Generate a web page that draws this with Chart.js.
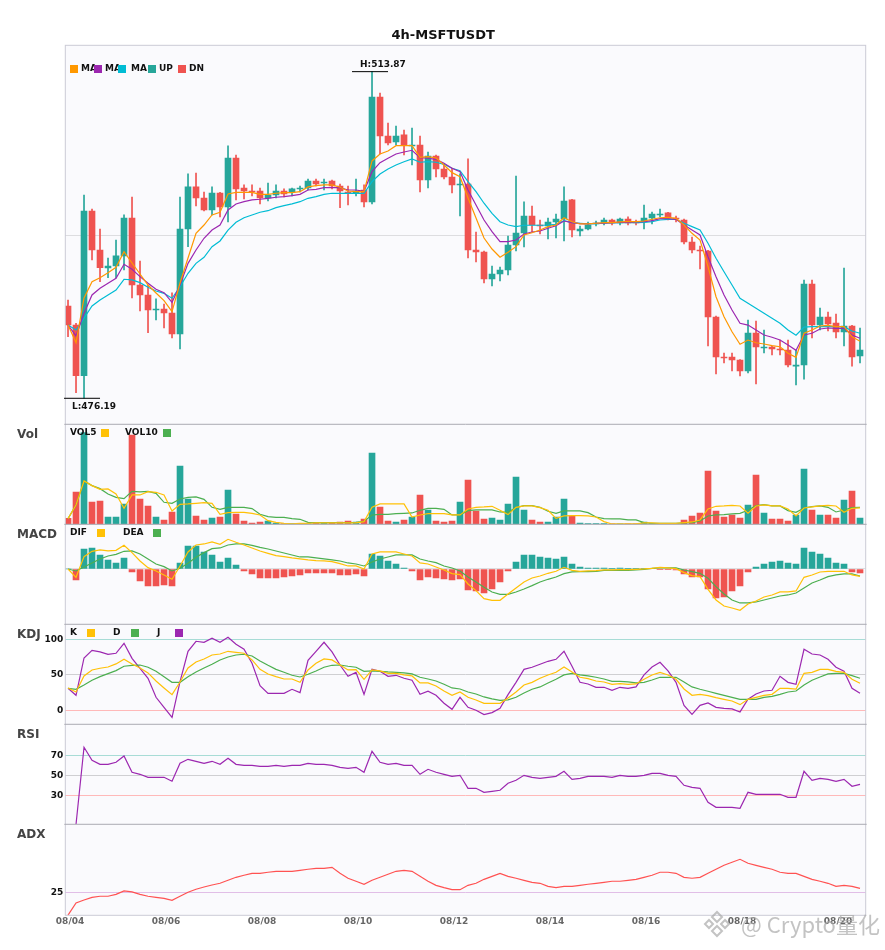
<!DOCTYPE html>
<html>
<head>
<meta charset="utf-8">
<title>4h-MSFTUSDT</title>
<script src="https://cdn.jsdelivr.net/npm/chart.js@4"></script>
<style>
    html, body { margin: 0; padding: 0; background: #fff; }
    canvas { display: block; }
</style>
</head>
<body>
<canvas id="klineChart" width="885" height="950"></canvas>
<script>
const tickDates = ["08/04", "08/06", "08/08", "08/10", "08/12", "08/14", "08/16", "08/18", "08/20"];
const tickIndexes = [0, 12, 24, 36, 48, 60, 72, 84, 96];

const opens = [
    486.84,484.64,478.80,497.80,493.30,491.22,491.45,492.61,496.99,489.26,
    488.11,486.38,486.49,486.03,483.61,495.72,500.57,499.30,497.91,499.87,
    498.26,503.91,500.45,500.10,500.10,499.30,499.64,500.10,499.99,500.34,
    500.45,501.26,501.03,501.26,500.68,499.99,499.87,500.22,498.84,510.95,
    506.45,505.76,506.57,505.30,505.41,501.37,504.14,502.64,501.72,500.80,
    500.91,493.30,493.07,489.95,490.53,490.99,493.87,495.26,497.22,496.18,
    496.07,496.53,496.87,499.07,495.49,495.72,496.30,496.41,496.76,496.41,
    496.87,496.53,496.53,496.99,497.34,497.57,496.99,496.76,494.22,493.30,
    493.18,485.57,480.95,480.95,480.61,479.34,483.72,481.99,482.11,481.88,
    481.76,479.91,480.03,489.37,484.64,485.57,484.87,483.84,484.53,481.07
];
const closes = [
    484.64,478.80,497.80,493.30,491.26,491.45,492.61,496.99,489.26,488.11,
    486.38,486.49,486.03,483.61,495.72,500.57,499.30,497.91,499.87,498.26,
    503.91,500.34,500.10,499.99,499.30,499.64,500.10,499.76,500.34,500.45,
    501.26,500.91,501.14,500.68,500.10,499.87,500.10,498.84,510.95,506.45,
    505.64,506.45,505.41,505.41,501.37,504.14,502.64,501.72,500.80,500.91,
    493.30,493.07,489.95,490.53,490.99,493.87,495.26,497.22,496.18,496.07,
    496.53,496.87,498.95,495.60,495.72,496.18,496.41,496.76,496.41,496.87,
    496.41,496.41,496.99,497.45,497.45,496.99,496.87,494.22,493.30,493.18,
    485.57,480.95,480.84,480.61,479.34,483.72,482.11,482.11,481.88,481.76,
    480.03,480.03,489.37,484.64,485.57,484.76,483.84,484.53,480.95,481.76
];
const highs = [
    487.53,484.84,499.64,498.03,495.72,492.37,494.45,497.34,499.41,492.03,
    489.26,487.65,487.07,488.37,499.41,502.07,502.18,499.99,500.57,499.95,
    505.30,504.26,500.80,500.80,500.45,501.03,500.80,500.34,500.45,500.68,
    501.49,501.49,501.49,501.37,500.91,500.68,501.49,500.80,513.87,511.41,
    507.95,507.60,507.14,507.37,506.45,504.60,504.26,503.22,502.76,502.07,
    503.80,495.37,493.18,491.45,491.34,494.91,501.83,498.84,498.37,496.76,
    496.99,497.45,500.57,499.15,496.07,496.53,496.64,496.99,496.87,496.99,
    497.11,496.76,498.49,497.68,498.03,497.65,497.22,496.85,494.80,493.76,
    493.25,485.68,481.41,481.41,480.65,485.22,485.11,484.07,482.22,482.91,
    482.91,481.76,489.84,489.84,486.61,486.14,485.91,491.22,484.60,484.30
];
const lows = [
    483.30,476.83,476.19,492.14,489.64,490.10,490.07,490.99,487.76,486.26,
    483.76,485.22,484.30,483.15,481.88,493.68,498.37,497.80,497.34,497.11,
    496.53,499.07,499.18,499.53,498.61,498.95,499.30,499.41,499.53,499.99,
    500.22,500.68,500.22,500.34,498.18,498.49,499.53,498.26,498.61,504.37,
    505.41,505.41,504.26,503.10,499.99,500.45,501.72,501.49,499.87,497.22,
    492.37,491.91,489.49,489.14,489.72,490.41,493.18,493.64,495.37,495.14,
    494.57,494.68,494.34,494.80,494.91,495.60,496.07,496.18,496.18,496.18,
    496.18,496.18,495.72,496.30,497.11,496.76,496.53,493.99,492.95,491.11,
    482.22,478.99,480.26,479.34,478.76,479.11,477.84,481.41,481.18,481.18,
    479.80,477.72,478.41,483.15,484.07,483.95,483.15,482.22,479.91,480.26
];

const ma5 = [
    484.64,482.60,487.76,489.64,490.10,490.68,491.30,493.10,491.80,490.53,
    489.26,488.34,487.45,486.18,489.49,492.37,495.22,496.18,497.34,497.65,
    499.76,499.95,499.95,499.95,499.72,499.72,499.84,499.91,499.91,500.02,
    500.57,500.72,500.80,500.80,500.53,500.10,500.02,500.02,503.57,504.37,
    504.72,505.33,505.33,505.33,503.99,504.06,503.91,503.10,502.22,501.75,
    499.30,496.99,494.68,493.41,492.46,493.03,493.68,495.03,495.29,495.60,
    495.99,496.18,497.02,496.56,496.30,496.30,496.38,496.45,496.45,496.53,
    496.56,496.56,496.64,496.84,497.02,497.07,496.95,496.18,495.22,494.45,
    491.37,487.91,485.60,483.87,482.42,482.91,482.60,482.45,482.26,482.14,
    481.38,480.92,483.69,484.07,484.53,484.61,484.45,484.45,483.30,482.76
];
const ma10 = [
    484.64,483.38,485.99,488.11,488.88,489.46,490.03,491.65,491.07,490.22,
    489.46,488.76,488.37,487.26,489.26,491.76,493.30,494.65,495.60,496.18,
    497.91,498.61,498.87,499.07,499.15,499.26,499.38,499.45,499.56,499.72,
    500.22,500.30,500.49,500.49,500.49,500.22,500.22,500.07,502.33,503.37,
    503.88,504.37,504.60,504.80,503.95,503.88,503.76,503.30,502.72,502.33,
    500.22,498.49,496.76,495.41,494.26,494.26,494.45,495.14,495.37,495.49,
    495.80,496.10,496.64,496.45,496.33,496.30,496.38,496.38,496.45,496.49,
    496.49,496.53,496.56,496.68,496.91,496.91,496.84,496.18,495.60,495.03,
    492.52,490.22,488.11,486.38,484.84,484.64,484.07,483.49,483.23,482.91,
    482.34,481.73,483.49,483.69,484.18,484.30,484.26,484.26,483.49,483.11
];
const ma20 = [
    484.64,484.07,485.42,486.84,487.53,488.11,488.68,489.92,489.84,489.53,
    488.99,488.57,488.30,487.73,489.06,490.61,491.76,492.46,493.68,494.34,
    495.60,496.49,497.02,497.34,497.65,497.83,498.18,498.41,498.61,498.87,
    499.26,499.45,499.72,499.84,499.84,499.84,499.84,499.84,501.18,502.07,
    502.64,503.10,503.48,503.80,503.42,503.48,503.42,503.18,502.72,502.45,
    501.18,500.02,498.69,497.53,496.56,496.18,495.99,496.15,496.15,496.15,
    496.18,496.26,496.68,496.45,496.38,496.30,496.33,496.38,496.41,496.45,
    496.45,496.45,496.49,496.56,496.76,496.84,496.84,496.38,495.99,495.60,
    494.07,492.34,490.79,489.26,487.73,487.15,486.57,485.99,485.42,484.84,
    484.07,483.46,484.41,484.45,484.45,484.45,484.45,484.45,483.95,483.69
];

const volumes = [
    18,97,275,67,70,22,22,61,268,76,
    55,22,13,37,175,76,25,13,19,22,
    103,31,10,4,7,10,4,2,2,2,
    2,3,3,3,7,10,7,16,214,52,
    10,7,13,22,88,43,10,7,10,67,
    133,40,16,19,13,61,142,43,13,7,
    7,22,76,25,4,2,2,2,1,1,
    1,1,7,3,2,2,2,13,25,34,
    160,40,22,28,19,58,148,34,16,16,
    10,28,166,43,28,28,19,73,100,19
];
const vol5 = [
    17,58,130,116,105,106,91,48,88,88,
    98,96,88,40,60,61,63,65,63,30,
    35,36,36,33,28,11,6,3,1,3,
    3,4,4,4,4,4,4,8,51,61,
    61,61,61,22,28,32,32,32,28,28,
    46,51,52,54,42,29,51,55,55,50,
    42,18,25,26,26,25,22,8,1,1,
    1,1,4,4,3,3,3,5,7,13,
    46,54,55,57,55,33,55,58,55,55,
    46,25,49,52,55,57,55,36,48,49
];
const vol10 = [
    17,58,130,116,107,91,81,77,99,97,
    99,93,66,63,76,81,82,75,51,45,
    51,51,51,47,30,23,21,21,17,15,
    6,5,5,5,5,5,6,9,28,30,
    30,32,33,34,42,48,48,45,28,28,
    41,43,43,43,37,36,50,56,56,51,
    39,33,40,40,40,35,22,17,16,16,
    13,13,5,3,3,3,3,4,5,10,
    25,28,29,31,33,42,56,59,55,55,
    41,36,49,53,55,51,37,43,50,51
];

const macdHist = [
    0,-0.33,0.60,0.63,0.42,0.27,0.18,0.33,-0.09,-0.36,
    -0.51,-0.51,-0.48,-0.51,0.18,0.69,0.69,0.51,0.42,0.21,
    0.33,0.12,-0.06,-0.15,-0.27,-0.27,-0.27,-0.24,-0.21,-0.18,
    -0.12,-0.12,-0.12,-0.12,-0.18,-0.18,-0.15,-0.21,0.45,0.39,
    0.24,0.15,0.03,-0.06,-0.33,-0.24,-0.27,-0.30,-0.33,-0.30,
    -0.63,-0.66,-0.72,-0.60,-0.39,-0.06,0.21,0.42,0.42,0.36,
    0.33,0.30,0.36,0.15,0.06,0.03,0.03,0.03,0.01,0.03,
    0.01,0.01,0.01,0.01,-0.01,-0.01,-0.03,-0.15,-0.24,-0.24,
    -0.60,-0.87,-0.84,-0.66,-0.51,-0.09,0.06,0.15,0.21,0.24,
    0.18,0.15,0.63,0.51,0.45,0.33,0.18,0.15,-0.09,-0.12
];
const dif = [
    0,-0.25,0.37,0.53,0.57,0.54,0.56,0.71,0.49,0.24,
    0.04,-0.06,-0.18,-0.31,0.09,0.51,0.72,0.75,0.81,0.74,
    0.89,0.80,0.72,0.63,0.54,0.47,0.40,0.37,0.33,0.30,
    0.27,0.25,0.24,0.22,0.16,0.09,0.09,0,0.45,0.51,
    0.51,0.51,0.45,0.39,0.18,0.15,0.06,-0.03,-0.14,-0.17,
    -0.45,-0.65,-0.89,-0.94,-0.94,-0.75,-0.57,-0.39,-0.27,-0.21,
    -0.13,-0.07,0.05,-0.04,-0.07,-0.06,-0.05,-0.03,-0.03,-0.02,
    -0.02,-0.01,0,0.02,0.05,0.03,0.01,-0.11,-0.20,-0.23,
    -0.61,-0.93,-1.11,-1.17,-1.24,-1.05,-0.96,-0.84,-0.78,-0.69,
    -0.69,-0.66,-0.25,-0.18,-0.09,-0.07,-0.07,-0.07,-0.18,-0.22
];
const dea = [
    0,-0.06,0.06,0.18,0.30,0.39,0.44,0.53,0.54,0.45,
    0.30,0.15,0.07,-0.06,0.02,0.17,0.35,0.49,0.61,0.63,
    0.72,0.75,0.75,0.71,0.65,0.60,0.54,0.48,0.42,0.36,
    0.36,0.33,0.30,0.27,0.24,0.18,0.15,0.09,0.21,0.30,
    0.36,0.42,0.42,0.42,0.30,0.24,0.19,0.09,0.03,-0.06,
    -0.24,-0.39,-0.55,-0.69,-0.76,-0.76,-0.69,-0.60,-0.50,-0.39,
    -0.31,-0.24,-0.14,-0.09,-0.08,-0.08,-0.07,-0.04,-0.04,-0.04,
    -0.04,-0.03,-0.01,0.02,0.03,0.03,0.03,-0.03,-0.08,-0.13,
    -0.28,-0.53,-0.75,-0.93,-1.02,-1.02,-0.99,-0.93,-0.87,-0.81,
    -0.78,-0.72,-0.57,-0.42,-0.33,-0.23,-0.18,-0.15,-0.15,-0.21
];

const kLine = [
    31.5,25.8,48.4,56.8,59.2,61.0,65.3,71.8,65.3,59.6,
    52.6,41.3,31.5,22.1,39.9,59.6,68.1,72.3,77.9,79.3,
    83.1,81.7,80.3,70.9,57.7,51.2,47.4,44.1,44.1,39.4,
    56.8,66.2,72.3,70.9,63.8,56.8,57.3,43.7,56.8,55.4,
    52.1,52.1,49.8,48.4,38.5,38.5,34.3,27.2,21.1,25.8,
    18.3,14.6,9.9,9.9,9.9,17.4,25.8,35.7,39.4,45.1,
    49.8,53.5,61.0,54.0,46.5,44.6,41.3,39.9,36.6,37.6,
    36.6,37.1,43.7,49.8,53.5,49.8,43.7,30.0,21.1,22.5,
    20.7,17.8,15.5,13.1,8.0,15.5,18.3,21.1,22.5,31.0,
    31.0,30.0,52.1,53.5,57.7,57.7,54.9,53.5,43.7,38.0
];
const dLine = [
    31.0,29.6,35.7,42.3,47.4,51.6,55.9,62.0,63.4,63.8,
    60.6,54.9,47.4,39.4,39.4,47.4,54.0,59.6,64.8,70.9,
    75.1,77.9,78.9,76.5,69.5,63.4,57.7,53.5,49.3,46.9,
    50.7,55.4,60.6,63.4,63.8,62.0,60.6,54.9,55.4,54.9,
    54.0,53.5,52.6,51.2,46.5,44.1,41.3,36.6,31.5,30.0,
    25.8,23.0,18.8,16.0,14.1,14.6,18.3,24.4,29.6,32.9,
    38.5,43.7,49.8,52.1,49.8,48.4,46.5,44.1,40.8,40.8,
    39.9,38.5,39.4,42.7,46.5,46.5,46.5,39.9,32.9,29.6,
    26.8,23.9,21.1,18.3,15.5,15.5,15.5,18.3,19.7,22.5,
    25.8,27.2,35.7,42.3,46.9,51.2,52.1,52.1,48.8,45.1
];
const jLine = [
    31.0,21.1,73.7,84.5,82.2,78.9,80.3,94.4,73.2,59.2,
    45.1,18.3,4.2,-9.9,40.4,83.1,97.2,95.8,101.4,95.8,
    102.8,93.0,85.9,66.2,34.7,23.9,23.9,23.9,29.6,24.9,
    70.4,83.1,95.8,82.2,63.8,47.9,53.5,22.5,57.7,54.9,
    47.9,49.3,45.1,42.3,22.5,26.8,21.1,9.9,1.4,18.3,
    4.2,0,-6.1,-3.3,2.8,22.1,39.4,57.7,60.6,64.8,
    69.0,71.8,83.1,62.0,39.4,37.1,32.4,32.4,28.2,32.4,
    31.0,32.9,49.8,61.0,67.6,55.4,39.4,7.0,-5.6,7.0,
    10.3,4.2,2.8,1.9,-2.3,15.5,23.0,27.2,28.2,47.9,
    39.4,36.6,85.9,79.3,77.9,71.8,60.6,54.9,31.0,23.9
];

const rsi = [
    null,1,78,65,61,61,63,69.3,53,51,
    48,48,48,44,62,66,64,62,64,61,
    67,61,60,60,59,59,60,59,60,60,
    62,61,61,60,58,57,58,53,74,63,
    61,62,60,60,51,56,53,51,49,50,
    37,37,33,34,35,42,45,50,48,47,
    48,49,54,46,47,49,49,49,48,50,
    49,49,50,52,52,50,49,40,38,37,
    23,18,18,18,17,33,31,31,31,31,
    28,28,54,45,47,46,44,46,39,41
];
const adx = [
    6,16.1,18.6,20.8,21.7,21.7,23.3,26.1,25.3,23.3,
    21.7,20.8,20.0,18.3,21.7,25.0,27.5,29.4,31.1,32.5,
    35.0,37.5,39.2,40.8,40.8,41.7,42.5,42.5,42.5,43.3,
    44.2,45.0,45.0,45.8,40.8,36.7,34.2,31.7,35.0,37.5,
    40.0,42.5,43.3,42.5,38.3,34.2,30.8,28.9,27.2,27.2,
    30.8,32.5,35.8,38.3,40.8,38.3,36.7,35.0,33.3,32.5,
    30.0,28.9,30.0,30.0,30.8,31.7,32.5,33.3,34.2,34.2,
    35.0,35.8,37.5,39.2,41.7,41.7,40.8,37.5,36.7,37.5,
    40.8,44.2,47.5,50.0,52.5,49.2,47.5,45.8,44.2,41.7,
    40.8,40.8,38.3,35.8,34.2,32.5,30.0,30.8,30.0,28.3
];

const kdjTicks = [100, 50, 0];
const rsiTicks = [70, 50, 30];
const adxTicks = [25];
const priceGuide = [495];
const macdGuide = [0];

const UP = "#26a69a";
const DOWN = "#ef5350";
const FONT = "'DejaVu Sans'";

const candleIndex = opens.map((_, i) => i);
const candleColor = ctx => closes[ctx.dataIndex] >= opens[ctx.dataIndex] ? UP : DOWN;

function line(label, data, yAxisID, color) {
    return { type: "line", label, data, yAxisID, borderColor: color, borderWidth: 1.2, pointRadius: 0, tension: 0, fill: false };
}

function bar(label, data, yAxisID, color, thickness) {
    return { type: "bar", label, data, yAxisID, backgroundColor: color, barThickness: thickness, grouped: false, borderWidth: 0 };
}

// one stacked y axis per pane, all of them share the x axis
function pane(min, max, height, weight, ticks, colors, showLabels) {
    return {
        position: "left", stack: "panes", stackWeight: height, weight, min, max,
        afterFit: scale => { scale.width = 44.6; },
        afterBuildTicks: scale => { scale.ticks = ticks.map(value => ({ value })); },
        border: { display: false },
        grid: { color: ctx => colors[ctx.index], lineWidth: 1, drawTicks: false },
        ticks: {
            display: showLabels, autoSkip: false, padding: 2, color: "#111",
            font: { family: FONT, size: 9, weight: "bold" }
        }
    };
}

const legends = [
    { y: 69, items: [["MA", 81], ["MA", 105], ["MA", 131], ["UP", 159], ["DN", 189]],
      boxes: [["#ff9800", 70], ["#9c27b0", 94], ["#00bcd4", 118], [UP, 148], [DOWN, 178]] },
    { y: 433, items: [["VOL5", 70], ["VOL10", 125]], boxes: [["#ffc107", 101], ["#4caf50", 163]] },
    { y: 533, items: [["DIF", 70], ["DEA", 123]], boxes: [["#ffc107", 97], ["#4caf50", 153]] },
    { y: 633, items: [["K", 70], ["D", 113], ["J", 157]], boxes: [["#ffc107", 87], ["#4caf50", 131], ["#9c27b0", 175]] }
];
const paneTitles = [["Vol", "yVol"], ["MACD", "yMacd"], ["KDJ", "yKdj"], ["RSI", "yRsi"], ["ADX", "yAdx"]];

const panelPlugin = {
    id: "panels",
    beforeDraw(chart) {
        const { ctx, chartArea: a } = chart;
        ctx.save();
        ctx.fillStyle = "#fafafd";
        ctx.fillRect(a.left, a.top, a.right - a.left, a.bottom - a.top);
        ctx.restore();
    },
    afterDatasetsDraw(chart) {
        const { ctx, chartArea: a, scales } = chart;
        ctx.save();

        // frame and pane separators
        ctx.strokeStyle = "#cbcbd6";
        ctx.lineWidth = 1;
        ctx.strokeRect(a.left, a.top, a.right - a.left, a.bottom - a.top);
        ctx.strokeStyle = "#ababb3";
        ["yMain", "yVol", "yMacd", "yKdj", "yRsi"].forEach(id => {
            const y = scales[id].bottom;
            ctx.beginPath();
            ctx.moveTo(a.left - 1, y);
            ctx.lineTo(a.right + 1, y);
            ctx.stroke();
        });

        // pane titles
        ctx.textBaseline = "middle";
        ctx.textAlign = "left";
        ctx.fillStyle = "#444";
        ctx.font = `bold 12px ${FONT}`;
        paneTitles.forEach(([name, id]) => ctx.fillText(name, 17, scales[id].top + 11));

        // legends, the boxes sit on top of the text like in the original
        ctx.font = `bold 9px ${FONT}`;
        legends.forEach(legend => {
            ctx.fillStyle = "#111";
            legend.items.forEach(([name, x]) => ctx.fillText(name, x, legend.y));
            legend.boxes.forEach(([color, x]) => {
                ctx.fillStyle = color;
                ctx.fillRect(x, legend.y - 4, 8, 8);
            });
        });

        // high and low marks
        const hi = highs.indexOf(Math.max(...highs));
        const lo = lows.indexOf(Math.min(...lows));
        const hiX = scales.x.getPixelForValue(hi), hiY = scales.yMain.getPixelForValue(highs[hi]);
        const loX = scales.x.getPixelForValue(lo), loY = scales.yMain.getPixelForValue(lows[lo]);
        ctx.strokeStyle = "#000";
        ctx.beginPath();
        ctx.moveTo(hiX - 20, hiY); ctx.lineTo(hiX + 16, hiY);
        ctx.moveTo(loX - 20, loY); ctx.lineTo(loX + 16, loY);
        ctx.stroke();
        ctx.fillStyle = "#111";
        ctx.fillText("H:" + highs[hi].toFixed(2), hiX - 12, hiY - 7);
        ctx.fillText("L:" + lows[lo].toFixed(2), loX - 12, loY + 8.5);

        ctx.restore();
    },
    afterDraw(chart) {
        // watermark
        const { ctx } = chart;
        ctx.save();
        ctx.fillStyle = "rgba(170,170,170,0.7)";
        ctx.strokeStyle = "rgba(170,170,170,0.7)";
        ctx.textBaseline = "middle";
        ctx.textAlign = "left";
        ctx.font = "22px 'Noto Sans CJK SC'";
        ctx.fillText("@ Crypto量化", 741, 925);
        ctx.lineWidth = 2;
        [[717, 917, 5], [709, 924, 4], [725, 924, 4], [717, 931, 5]].forEach(([x, y, r]) => {
            ctx.beginPath();
            ctx.moveTo(x, y - r); ctx.lineTo(x + r, y); ctx.lineTo(x, y + r); ctx.lineTo(x - r, y);
            ctx.closePath();
            ctx.stroke();
        });
        ctx.restore();
    }
};

new Chart(document.querySelector("#klineChart"), {
    data: {
        labels: candleIndex,
        datasets: [
            line("MA5", ma5, "yMain", "#ff9800"),
            line("MA10", ma10, "yMain", "#9c27b0"),
            line("MA20", ma20, "yMain", "#00bcd4"),
            bar("Body", opens.map((o, i) => [o, closes[i]]), "yMain", candleColor, 6),
            bar("Wick", lows.map((l, i) => [l, highs[i]]), "yMain", candleColor, 1),

            line("VOL5", vol5, "yVol", "#ffc107"),
            line("VOL10", vol10, "yVol", "#4caf50"),
            bar("Vol", volumes, "yVol", candleColor, 6),

            line("DIF", dif, "yMacd", "#ffc107"),
            line("DEA", dea, "yMacd", "#4caf50"),
            bar("MACD", macdHist, "yMacd", ctx => macdHist[ctx.dataIndex] >= 0 ? UP : DOWN, 6),

            line("K", kLine, "yKdj", "#ffc107"),
            line("D", dLine, "yKdj", "#4caf50"),
            line("J", jLine, "yKdj", "#9c27b0"),

            line("RSI", rsi, "yRsi", "#9c27b0"),
            line("ADX", adx, "yAdx", "#ff5252")
        ]
    },
    options: {
        responsive: false,
        animation: false,
        layout: { padding: { top: 0, right: 19.3, bottom: 0, left: 20.7 } },
        plugins: {
            legend: { display: false },
            tooltip: { enabled: false },
            title: {
                display: true, text: "4h-MSFTUSDT", color: "#111",
                font: { family: FONT, size: 13, weight: "bold" },
                padding: { top: 28, bottom: 1.7 }
            }
        },
        scales: {
            x: {
                type: "linear", min: -0.34, max: 99.71, offset: false,
                afterFit: scale => { scale.height = 34.7; },
                afterBuildTicks: scale => { scale.ticks = tickIndexes.map(value => ({ value })); },
                grid: { display: false, drawTicks: false },
                border: { display: false },
                ticks: {
                    autoSkip: false, maxRotation: 0, labelOffset: 2, padding: 1, color: "#666",
                    font: { family: FONT, size: 9, weight: "bold" },
                    callback: (value, i) => tickDates[i]
                }
            },
            yMain: pane(473.19, 516.91, 379, 6, priceGuide, ["#dddde0"], false),
            yVol: pane(0, 300, 100, 5, [0], ["#dddde0"], false),
            yMacd: pane(-1.66, 1.34, 100, 4, macdGuide, ["#dddde0"], false),
            yKdj: pane(-19.7, 121.1, 100, 3, kdjTicks, ["#a8dcd6", "#cfcfd2", "#ffb9b9"], true),
            yRsi: pane(1, 101, 100, 2, rsiTicks, ["#a8dcd6", "#cfcfd2", "#ffb9b9"], true),
            yAdx: pane(5.83, 81.66, 91, 1, adxTicks, ["#e1bee7"], true)
        }
    },
    plugins: [panelPlugin]
});
</script>
</body>
</html>
